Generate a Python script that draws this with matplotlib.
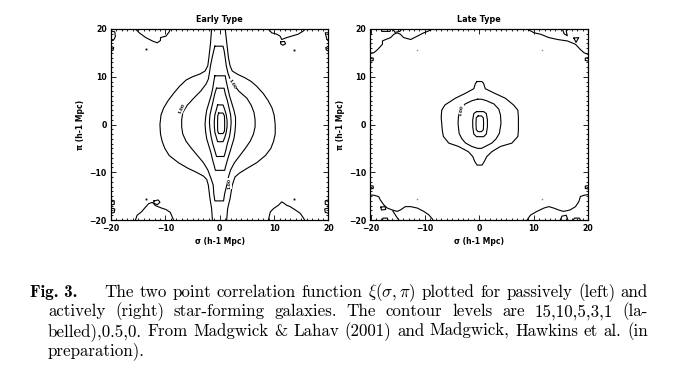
import matplotlib
matplotlib.use("Agg")
import matplotlib.pyplot as plt
from matplotlib.ticker import MultipleLocator, FixedLocator, FixedFormatter

plt.rcParams['mathtext.fontset'] = 'cm'

# ---------------- data (units h^-1 Mpc) ----------------
tick_vals = [-20, -10, 0, 10, 20]
tick_text = ['\u221220', '\u221210', '0', '10', '20']
titles = ['Early Type', 'Late Type']
xlabel = '\u03c3 (h-1 Mpc)'
ylabel = '\u03c0 (h-1 Mpc)'
label_text = '1.00'

# Early type: level 0.5 (open, left and right branches)
e05_left_y = [20, 17, 14, 12.3, 11.2, 10.6, 10.0, 9.3, 8.0, 6.5, 5.0, 3.5, 2.0, 0.0,
              -2.0, -3.5, -5.0, -6.5, -8.0, -9.2, -10.0, -10.8, -11.5, -12.7, -15.5, -17.6, -20]
e05_left_x = [-1.5, -1.7, -2.0, -2.2, -2.7, -3.6, -5.0, -6.2, -7.4, -8.5, -9.5, -10.3, -10.8, -11.0,
              -10.9, -10.6, -10.1, -9.3, -7.6, -5.8, -4.3, -3.0, -2.4, -2.1, -1.8, -1.5, -1.35]
e05_right_y = [20, 17, 14, 12.3, 11.2, 10.5, 9.8, 9.0, 8.0, 6.5, 5.0, 3.5, 2.0, 0.0,
               -2.0, -3.5, -5.0, -6.5, -8.0, -9.2, -10.2, -11.0, -12.7, -15.5, -17.6, -20]
e05_right_x = [1.0, 1.3, 1.6, 1.9, 2.3, 3.3, 4.6, 5.8, 6.8, 8.0, 8.9, 9.6, 10.0, 10.2,
               10.2, 9.9, 9.4, 8.4, 6.8, 5.0, 3.6, 2.8, 2.3, 1.9, 1.45, 1.27]

# Early type: closed levels 1, 3, 5, 10, 15  (pi, sigma_left, sigma_right)
e1_y = [16.4, 15.5, 14.0, 12.3, 10.8, 9.5, 8.5, 7.0, 5.5, 4.0, 2.5, 1.0, -0.5, -2.0,
        -3.5, -5.0, -6.5, -8.0, -9.5, -11.0, -12.7, -14.5, -16.0]
e1_l = [-0.9, -1.1, -1.4, -1.7, -1.9, -2.1, -2.5, -3.5, -4.8, -6.0, -6.8, -7.0, -7.0, -6.8,
        -6.2, -5.2, -4.1, -3.0, -2.2, -1.7, -1.2, -1.1, -0.9]
e1_r = [0.6, 0.8, 1.0, 1.2, 1.5, 1.9, 2.5, 3.5, 5.0, 5.8, 6.3, 6.5, 6.5, 6.2,
        5.6, 4.7, 3.7, 2.7, 2.0, 1.6, 1.3, 0.9, 0.7]
e3_y = [10.2, 9.0, 7.5, 6.0, 4.5, 3.0, 1.5, 0.0, -1.5, -3.0, -4.5, -6.0, -7.5, -8.7, -9.6]
e3_l = [-0.9, -1.1, -1.3, -1.6, -2.0, -2.4, -2.6, -2.7, -2.6, -2.4, -2.0, -1.6, -1.3, -1.0, -0.8]
e3_r = [1.0, 1.2, 1.5, 1.8, 2.2, 2.6, 2.9, 2.9, 2.8, 2.6, 2.2, 1.8, 1.4, 1.1, 0.9]
e5_y = [7.6, 6.5, 5.0, 3.5, 2.0, 0.5, -1.0, -2.5, -4.0, -5.5, -6.7]
e5_l = [-0.6, -0.9, -1.2, -1.5, -1.8, -1.9, -1.8, -1.6, -1.3, -0.9, -0.6]
e5_r = [0.8, 1.0, 1.4, 1.7, 2.0, 2.1, 2.0, 1.8, 1.4, 1.1, 0.8]
e10_y = [4.1, 3.2, 2.0, 0.8, -0.4, -1.6, -2.8, -3.6]
e10_l = [-0.4, -0.6, -0.9, -1.0, -1.0, -0.9, -0.6, -0.4]
e10_r = [0.6, 0.9, 1.2, 1.35, 1.35, 1.2, 0.9, 0.6]
e15_y = [2.4, 1.8, 0.5, -0.8, -1.4, -1.9]
e15_l = [-0.2, -0.37, -0.4, -0.4, -0.37, -0.2]
e15_r = [0.6, 0.86, 0.9, 0.9, 0.86, 0.6]

# Early type: level 0 pieces near the corners (sigma list, pi list)
e0_pieces = [
    ([-15.5, -14.8, -13.6, -12.4, -11.5, -10.9, -10.9, -9.9, -9.3, -9.1],
     [20, 19.2, 18.2, 17.5, 17.1, 17.6, 18.2, 18.5, 19.4, 20]),
    ([-20, -19.3, -19.2, -19.5, -20], [19.6, 19.4, 18.4, 17.7, 17.5]),
    ([-20, -19.5, -19.6, -20], [16.4, 16.1, 15.6, 15.4]),
    ([8.95, 9.55, 10.5, 11.1, 11.4, 12.3, 13.2, 14.4, 15.4, 15.7],
     [20, 19.2, 18.9, 18.5, 17.8, 18.2, 18.5, 18.9, 19.6, 20]),
    ([11.2, 11.9, 12.1, 11.6, 11.2, 11.2], [17.3, 17.4, 16.9, 16.6, 16.9, 17.3]),
    ([20, 19.4, 19.7, 20], [19.2, 19.2, 17.8, 17.5]),
    ([20, 19.5, 19.6, 20], [16.4, 16.1, 15.6, 15.4]),
    ([-15.5, -15.2, -14.4, -13.8, -13.1, -12.4, -11.8, -10.7, -9.9, -9.1, -8.5],
     [-20, -19.0, -18.3, -17.5, -16.6, -16.3, -17.0, -17.5, -17.8, -18.4, -20]),
    ([-12.1, -11.3, -11.0, -11.5, -12.1, -12.1], [-16.0, -15.8, -16.3, -16.8, -16.5, -16.0]),
    ([-20, -19.4, -19.4, -20], [-15.8, -16.0, -16.7, -16.9]),
    ([-20, -19.3, -19.4, -20], [-17.5, -17.7, -18.4, -18.6]),
    ([8.95, 9.3, 9.9, 10.8, 11.4, 11.7, 12.3, 12.95, 13.9, 14.8, 15.4, 15.6],
     [-20, -18.3, -17.6, -16.9, -16.2, -16.4, -16.9, -17.2, -17.9, -18.6, -19.6, -20]),
    ([20, 19.4, 19.4, 20], [-15.8, -16.0, -16.7, -16.9]),
    ([20, 19.3, 19.4, 20], [-17.5, -17.7, -18.4, -18.6]),
]
e_dots_x = [-13.6, 13.6, -13.5, 13.6]
e_dots_y = [15.9, 15.7, -15.6, -15.6]
e_lab_x = [-6.9, 2.3, 1.8]
e_lab_y = [3.3, 8.5, -12.3]
e_lab_rot = [65, -60, 90]

# Late type: closed levels 0.5, 1, 3, 5
l05_y = [9.0, 8.6, 7.5, 6.5, 5.5, 4.1, 3.0, 1.5, 0.2, -1.2, -2.5, -3.9, -4.6, -5.7, -6.7, -7.8, -8.5]
l05_l = [-0.4, -0.7, -1.0, -2.6, -4.4, -6.3, -6.9, -7.0, -6.9, -6.8, -6.6, -5.6, -3.8, -2.0, -1.2, -0.8, -0.4]
l05_r = [0.5, 0.8, 1.1, 2.9, 4.8, 6.3, 7.1, 7.2, 7.2, 7.2, 7.1, 6.0, 3.9, 2.3, 1.4, 0.9, 0.5]
l1_y = [5.3, 5.0, 4.3, 3.2, 2.0, 0.24, -1.85, -3.0, -3.9, -4.6, -5.0]
l1_l = [-0.3, -1.3, -2.6, -3.4, -3.8, -3.9, -3.7, -3.2, -2.5, -1.35, -0.3]
l1_r = [0.4, 1.3, 2.7, 3.6, 3.9, 4.0, 3.7, 3.1, 2.3, 1.1, 0.4]
l3_y = [2.7, 2.3, 1.0, -0.5, -2.0, -2.55]
l3_l = [-0.5, -1.0, -1.2, -1.2, -1.0, -0.5]
l3_r = [0.8, 1.3, 1.5, 1.5, 1.3, 0.8]
l5_y = [1.8, 1.4, 0.2, -1.1, -1.5]
l5_l = [-0.2, -0.55, -0.6, -0.55, -0.2]
l5_r = [0.4, 0.75, 0.8, 0.75, 0.4]

# Late type: level 0 pieces near the corners
l0_pieces = [
    ([-20, -19.4, -18.7, -17.8, -17.8, -17.2, -16.3, -15.7, -15.1, -14.5, -13.9, -12.6,
      -11.4, -10.2, -9.3, -8.6],
     [15.0, 15.0, 15.7, 16.8, 17.5, 17.8, 18.2, 18.9, 19.2, 18.9, 18.2, 17.8,
      18.5, 19.2, 19.6, 20]),
    ([-18.0, -17.9, -16.4, -16.3], [20, 19.5, 19.5, 20]),
    ([-15.9, -15.5, -14.6, -14.2], [20, 19.3, 19.5, 20]),
    ([-20, -19.5, -19.5, -20], [14.0, 13.9, 13.4, 13.3]),
    ([8.8, 10.1, 11.3, 12.8, 14.4, 16.2, 17.7, 18.6, 19.3, 20],
     [20, 19.2, 18.9, 18.2, 17.8, 17.5, 16.8, 15.7, 15.0, 14.7]),
    ([15.3, 15.6, 16.2, 16.0, 16.3], [20, 19.0, 18.6, 19.5, 20]),
    ([17.4, 18.3, 17.8, 17.4], [18.1, 18.2, 17.2, 18.1]),
    ([20, 19.5, 19.5, 20], [14.0, 13.9, 13.4, 13.3]),
    ([-20, -19.4, -18.5, -18.2, -17.5, -16.9, -16.0, -15.1, -14.5, -13.6, -12.6, -11.4,
      -10.2, -9.3, -8.6, -8.5],
     [-14.8, -14.8, -15.1, -15.8, -16.9, -17.5, -17.9, -18.2, -17.9, -17.2, -17.2, -17.5,
      -18.2, -18.9, -19.8, -20]),
    ([-18.1, -17.3, -17.2, -18.0, -18.1], [-17.3, -17.2, -17.8, -17.9, -17.3]),
    ([-17.8, -17.7, -16.9, -16.8], [-20, -19.6, -19.6, -20]),
    ([-15.9, -15.4, -14.8], [-18.1, -19.0, -20]),
    ([-20, -19.5, -19.5, -20], [-12.8, -12.9, -13.4, -13.5]),
    ([8.8, 9.4, 10.6, 11.9, 12.8, 13.7, 14.6, 15.5, 16.7, 17.7, 18.3, 18.6, 19.3, 20],
     [-20, -19.0, -18.2, -17.5, -17.2, -17.5, -17.9, -18.2, -17.9, -17.2, -16.2, -15.1, -14.8, -14.7]),
    ([14.9, 15.2, 16.0, 16.3], [-20, -19.2, -19.0, -20]),
    ([17.3, 17.5, 18.4, 18.6], [-20, -19.6, -19.6, -20]),
    ([20, 19.5, 19.5, 20], [-12.8, -12.9, -13.4, -13.5]),
]
l_dots_x = [-11.4, 11.6, -11.4, 11.6]
l_dots_y = [15.7, 15.7, -15.5, -15.5]
l_lab_x = [-3.3]
l_lab_y = [3.0]
l_lab_rot = [80]

caption_lines = [
    "The two point correlation function $\\xi(\\sigma,\\pi)$ plotted for passively (left) and",
    "actively (right) star-forming galaxies.  The contour levels are 15,10,5,3,1 (la-",
    "belled),0.5,0.  From Madgwick & Lahav (2001) and Madgwick, Hawkins et al. (in",
    "preparation).",
]

# ---------------- figure ----------------
W, H = 680, 374
fig = plt.figure(figsize=(W / 100, H / 100), dpi=100)
fig.patch.set_facecolor('white')

LW = 0.8
axes_px = [(111, 328.5), (370.5, 588)]
top_px, bot_px = 29, 220


def closed(ax, y, l, r):
    xs = list(l) + list(r)[::-1] + [l[0]]
    ys = list(y) + list(y)[::-1] + [y[0]]
    ax.plot(xs, ys, color='k', lw=LW)


def style(ax, title):
    ax.set_xlim(-20, 20)
    ax.set_ylim(-20, 20)
    for a in (ax.xaxis, ax.yaxis):
        a.set_major_locator(FixedLocator(tick_vals))
        a.set_major_formatter(FixedFormatter(tick_text))
        a.set_minor_locator(MultipleLocator(1))
    ax.tick_params(which='both', direction='in', top=True, right=True, width=0.6,
                   labelsize=5.6, pad=3)
    ax.tick_params(which='major', length=3.5)
    ax.tick_params(which='minor', length=1.6)
    for lab in ax.get_xticklabels() + ax.get_yticklabels():
        lab.set_fontweight('bold')
    for s in ax.spines.values():
        s.set_linewidth(0.9)
    ax.set_title(title, fontsize=5.8, fontweight='bold', pad=5)
    ax.set_xlabel(xlabel, fontsize=5.5, fontweight='bold', labelpad=3)
    ax.set_ylabel(ylabel, fontsize=5.5, fontweight='bold', labelpad=3)


axs = []
for (x0, x1) in axes_px:
    ax = fig.add_axes([x0 / W, 1 - bot_px / H, (x1 - x0) / W, (bot_px - top_px) / H])
    axs.append(ax)

# Early type
ax = axs[0]
ax.plot(e05_left_x, e05_left_y, color='k', lw=LW)
ax.plot(e05_right_x, e05_right_y, color='k', lw=LW)
closed(ax, e1_y, e1_l, e1_r)
closed(ax, e3_y, e3_l, e3_r)
closed(ax, e5_y, e5_l, e5_r)
closed(ax, e10_y, e10_l, e10_r)
closed(ax, e15_y, e15_l, e15_r)
for px, py in e0_pieces:
    ax.plot(px, py, color='k', lw=LW, clip_on=True)
ax.plot(e_dots_x, e_dots_y, 's', color='k', ms=1.3, mew=0)
for x, y, r in zip(e_lab_x, e_lab_y, e_lab_rot):
    ax.text(x, y, label_text, fontsize=3.2, rotation=r, ha='center', va='center',
            fontweight='bold', bbox=dict(fc='white', ec='none', pad=0.1))
style(ax, titles[0])

# Late type
ax = axs[1]
closed(ax, l05_y, l05_l, l05_r)
closed(ax, l1_y, l1_l, l1_r)
closed(ax, l3_y, l3_l, l3_r)
closed(ax, l5_y, l5_l, l5_r)
for px, py in l0_pieces:
    ax.plot(px, py, color='k', lw=LW, clip_on=True)
ax.plot(l_dots_x, l_dots_y, 's', color='#888888', ms=1.0, mew=0)
for x, y, r in zip(l_lab_x, l_lab_y, l_lab_rot):
    ax.text(x, y, label_text, fontsize=3.2, rotation=r, ha='center', va='center',
            fontweight='bold', bbox=dict(fc='white', ec='none', pad=0.1))
style(ax, titles[1])

# ---------------- caption (justified) ----------------
renderer = fig.canvas.get_renderer()
FS = 12.2
RIGHT = 648
baselines = [296.7, 316.2, 335.7, 355.2]


def make_word(s, x, yb, family='cmr10'):
    t = fig.text(x / W, 1 - yb / H, s, fontsize=FS, family=family,
                 ha='left', va='baseline')
    return t


fig_lab = make_word('Fig. 3.', 30, baselines[0], family='cmb10')

for i, line in enumerate(caption_lines):
    x_start = 104 if i == 0 else 48
    yb = baselines[i]
    words = line.split()
    texts = [make_word(w, 0, yb) for w in words]
    widths = [t.get_window_extent(renderer).width for t in texts]
    if i < 3 and len(words) > 1:
        gap = (RIGHT - x_start - sum(widths)) / (len(words) - 1)
    else:
        gap = 4.5
    x = x_start
    for t, w in zip(texts, widths):
        t.set_position((x / W, 1 - yb / H))
        x += w + gap

fig.savefig('out.png', dpi=100, facecolor='white')
